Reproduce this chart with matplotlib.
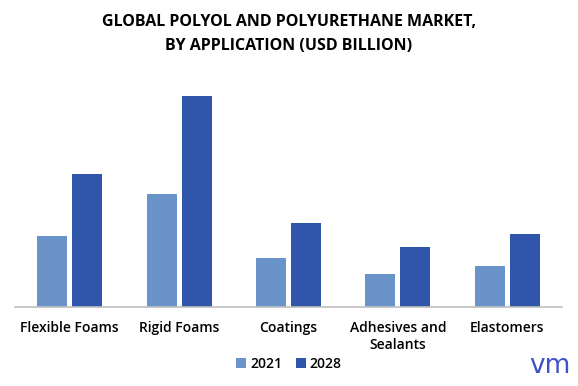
import matplotlib.pyplot as plt
import numpy as np

categories = ["Flexible Foams", "Rigid Foams", "Coatings", "Adhesives and\nSealants", "Elastomers"]
values_2021 = [7.1, 11.3, 4.9, 3.3, 4.1]
values_2028 = [13.3, 21.1, 8.4, 6.0, 7.3]
series_labels = ["2021", "2028"]

color_2021 = "#6a93c9"
color_2028 = "#2f56ab"

fig = plt.figure(figsize=(5.78, 3.86), dpi=100)
ax = fig.add_axes([15 / 578, 1 - 307 / 386, 547 / 578, 227 / 386])

x = np.arange(len(categories))
width = 0.275
offset = 0.16

ax.bar(x - offset, values_2021, width, color=color_2021, label=series_labels[0])
ax.bar(x + offset, values_2028, width, color=color_2028, label=series_labels[1])

ax.set_xlim(-0.5, len(categories) - 0.5)
ax.set_ylim(0, 22.7)
ax.set_yticks([])
ax.set_xticks(x)
ax.set_xticklabels(categories, fontsize=10, fontweight="semibold", family="Open Sans",
                   linespacing=1.3, va="top")
ax.tick_params(axis="x", length=0, pad=10)
for side in ["top", "right", "left"]:
    ax.spines[side].set_visible(False)
ax.spines["bottom"].set_color("#bfbfbf")
ax.spines["bottom"].set_linewidth(1.2)

fig.text(0.5, 1 - 34 / 386, "GLOBAL POLYOL AND POLYURETHANE MARKET,\nBY APPLICATION (USD BILLION)",
         ha="center", va="center", fontsize=11.5, fontweight="bold", family="Open Sans",
         linespacing=1.6)

fig.legend(loc="center", bbox_to_anchor=(0.5, 1 - 364 / 386), ncols=2, frameon=False,
           handlelength=0.7, handleheight=0.7, handletextpad=0.3, columnspacing=1.0,
           prop={"family": "Open Sans", "weight": "semibold", "size": 10})

# logo
fig.text(550 / 578, 1 - 366 / 386, "vm", ha="center", va="center", fontsize=19,
         color="#3f51c9", family="DejaVu Sans")

fig.savefig("out.png", dpi=100)
